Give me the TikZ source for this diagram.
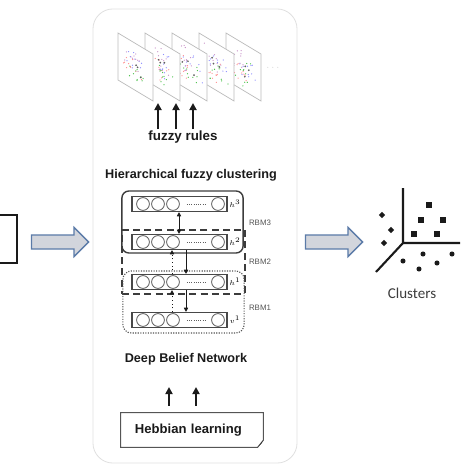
\documentclass[tikz,border=0pt]{standalone}
\usepackage{fontspec}
\setmainfont{Liberation Sans}
\newfontfamily\calfont{Carlito}
\usetikzlibrary{arrows.meta, positioning, shapes.arrows}
\definecolor{arrowline}{HTML}{5B7BA8}
\definecolor{arrowfill}{HTML}{D2D5DC}
\definecolor{panel}{HTML}{E0E0E0}
\definecolor{ink}{HTML}{1A1A1A}
\definecolor{soft}{HTML}{555555}
\definecolor{sheet}{HTML}{BDBDBD}

\begin{document}
\begin{tikzpicture}[x=0.025cm, y=-0.025cm, >={Triangle[length=5pt, width=5pt]},
    blockarrow/.style={single arrow, draw=arrowline, line width=0.9pt, fill=arrowfill,
      inner sep=0.16cm, single arrow head extend=0.19cm, minimum height=1.43cm},
    sheetbox/.style={draw=sheet, fill=white, line width=0.5pt},
    uparrow/.style={->, line width=1.5pt, ink},
    title/.style={font=\bfseries\fontsize{9}{10}\selectfont, text=ink, inner sep=1pt},
    layer/.style={draw=ink!80, line width=0.8pt, fill=white, minimum width=2.375cm, minimum height=0.375cm},
    unit/.style={circle, draw=ink!70, line width=0.6pt, minimum size=0.32cm, inner sep=0pt},
    link/.style={ink, line width=0.6pt, >={Triangle[length=3pt, width=3pt]}},
    hlab/.style={font=\fontsize{5.5}{6}\selectfont, inner sep=0pt},
    rbmlab/.style={font=\fontsize{5.6}{6}\selectfont, text=soft},
    rbmbox/.style={minimum width=3.03cm, minimum height=1.55cm, inner sep=0pt},
    dotmark/.style={fill=ink, inner sep=0pt, minimum size=3.6pt}]

  \useasboundingbox (0,0) rectangle (474,474);

  % input and panel
  \node[draw=ink, line width=1.1pt, minimum width=1.35cm, minimum height=1.2cm] (src) at (-10,239) {};
  \node[draw=panel, line width=0.6pt, rounded corners=0.5cm, minimum width=5.1cm, minimum height=11.35cm] (panel) at (195,236) {};
  \node[blockarrow] (arrowin) at (56.5,242) {};
  \node[blockarrow] (arrowout) at (330.5,242) {};

  % fuzzy rule sheets
  \pgfmathsetseed{11}
  \foreach \i in {4,3,...,0} {
    \pgfmathsetmacro\px{118+27*\i}
    \draw[sheetbox] (\px,33) -- (\px+35,54) -- (\px+35,101) -- (\px,80) -- cycle;
    \foreach \col/\du/\dv in {red!45/-0.1/0.08, blue!45/0.1/-0.05, green!50!gray/0.05/0.12, violet!45/-0.05/-0.1} {
      \foreach \k in {1,...,10} {
        \pgfmathsetmacro\pu{0.47+\du+0.17*(rand+rand)}
        \pgfmathsetmacro\pv{0.5+\dv+0.17*(rand+rand)}
        \fill[\col] (\px+35*\pu, 33+21*\pu+47*\pv) circle (0.45pt);
      }
    }
    \foreach \k in {1,...,3} {
      \pgfmathsetmacro\pu{0.5+0.15*(rand+rand)}
      \pgfmathsetmacro\pv{0.5+0.15*(rand+rand)}
      \fill[ink!70] (\px+35*\pu, 33+21*\pu+47*\pv) circle (0.7pt);
    }
  }
  \node[text=soft!60, font=\tiny] (more) at (273,68) {$\cdots$};

  \node[title, font=\bfseries\fontsize{9.5}{10}\selectfont] (fuzzy) at (183,137) {fuzzy rules};
  \foreach \x [count=\n] in {158,176,193} {
    \coordinate (tip\n) at (\x,103);
    \draw[uparrow] (fuzzy.north -| tip\n) -- (tip\n);
  }

  \node[title] (head) at (191,175) {Hierarchical fuzzy clustering};

  % deep belief network
  \foreach \n/\y/\lname in {3/204/h^3, 2/242/h^2, 1/282/h^1, 0/320/v^1} {
    \node[layer] (l\n) at (179.5,\y) {};
    \foreach \cx [count=\j] in {143,158,173,218}
      \node[unit] (u\n\j) at (\cx,\y) {};
    \draw[ink!70, densely dotted, line width=0.6pt, shorten <=5pt, shorten >=4pt] (u\n3) -- (u\n4);
    \node[hlab] (lab\n) at (235,\y) {$\lname$};
  }

  \node[rbmbox, draw=ink!85, line width=1pt, rounded corners=5pt] (rbm3box) at (182.5,222) {};
  \node[rbmbox, draw=ink!85, line width=1.4pt, dash pattern=on 5pt off 3pt, minimum width=3.08cm, minimum height=1.6cm] (rbm2box) at (183.5,262) {};
  \node[rbmbox, draw=ink!75, line width=0.8pt, densely dotted, rounded corners=6pt] (rbm1box) at (183.5,302) {};
  \node[rbmlab] (rbm3) at (260,223) {RBM3};
  \node[rbmlab] (rbm2) at (260,262) {RBM2};
  \node[rbmlab] (rbm1) at (260,308) {RBM1};

  \coordinate (ux) at (172,0);
  \coordinate (dx) at (186,0);
  \draw[link, <->] (l3.south -| 179,0) -- (l2.north -| 179,0);
  \draw[link, ->, dotted] (l1.north -| ux) -- (l2.south -| ux);
  \draw[link, ->] (l2.south -| dx) -- (l1.north -| dx);
  \draw[link, ->, dotted] (l0.north -| ux) -- (l1.south -| ux);
  \draw[link, ->] (l1.south -| dx) -- (l0.north -| dx);

  \node[title] (dbn) at (186,359) {Deep Belief Network};

  % hebbian learning note
  \node[font=\bfseries\fontsize{9.3}{10}\selectfont, text=ink, minimum height=0.85cm,
        text width=2.85cm, inner xsep=0.35cm, align=left] (hebb) at (192,430) {Hebbian learning};
  \draw[draw=soft, line width=0.7pt] (hebb.north west) -- (hebb.north east) -- ([yshift=5pt]hebb.south east)
    -- ([xshift=-4pt]hebb.south east) -- (hebb.south west) -- cycle;
  \fill[ink] ([yshift=5pt]hebb.south east) -- ([xshift=-4pt]hebb.south east) -- ([xshift=-1.5pt,yshift=2.5pt]hebb.south east) -- cycle;
  \foreach \x [count=\n] in {169,196} {
    \coordinate (dt\n) at (\x,387);
    \draw[uparrow, shorten <=5pt] (hebb.north -| dt\n) -- (dt\n);
  }

  % clusters
  \coordinate (o) at (403,243);
  \coordinate (ax1) at (403,188);
  \coordinate (ax2) at (460,243);
  \coordinate (ax3) at (376,272);
  \draw[ink, line width=1.5pt] (ax1) -- (o) -- (ax2) (o) -- (ax3);
  \foreach \p [count=\n] in {(382,215),(391,230),(384,243)}
    \node[dotmark, rotate=45, minimum size=3.2pt] (dia\n) at \p {};
  \foreach \p [count=\n] in {(429,205),(421,220),(443,220),(414,234),(437,234)}
    \node[dotmark] (sq\n) at \p {};
  \foreach \p [count=\n] in {(403,261),(423,254),(452,254),(419,269),(437,263)}
    \node[dotmark, circle] (pt\n) at \p {};
  \node[font=\calfont\fontsize{10.7}{12}\selectfont, text=ink!85] (clab) at (412,293) {Clusters};
\end{tikzpicture}
\end{document}
